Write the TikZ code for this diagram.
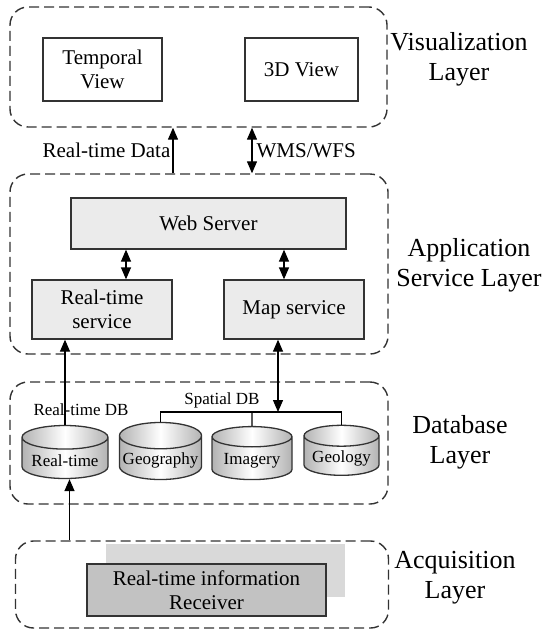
\documentclass[tikz,border=0pt]{standalone}
\usepackage{fontspec}
\setmainfont{Liberation Serif}
\usetikzlibrary{arrows.meta}
\usetikzlibrary{shapes.geometric}

\begin{document}
\begin{tikzpicture}[x=1pt, y=-1pt, >={Triangle[length=12pt,width=10pt]}, line width=1.3pt,
  layer/.style={draw=black!80, dashed, dash pattern=on 10pt off 5pt, rounded corners=18pt, line width=1.4pt},
  viewbox/.style={draw=black!80, align=center, font=\fontsize{21}{24}\selectfont},
  servbox/.style={viewbox, fill=black!8},
  dbcyl/.style={cylinder, shape border rotate=90, aspect=0.32, draw=black!80, shading=axis,
    left color=black!30, right color=black!30, middle color=white, font=\fontsize{17}{20}\selectfont},
  lbl/.style={align=center, font=\fontsize{26}{30}\selectfont},
  small/.style={font=\fontsize{17}{20}\selectfont}]
\useasboundingbox (0,0) rectangle (542,632);
% visualization layer
\node [layer, minimum width=377, minimum height=120] (vis) at (198.5,67) {};
\node [viewbox, minimum width=119, minimum height=63] (temporal) at (102.5,69.5) {Temporal\\View};
\node [viewbox, minimum width=113, minimum height=63] (view3d) at (301.5,69.5) {3D View};
\node [lbl] (vislbl) at (459,59) {Visualization\\Layer};
% application service layer
\node [layer, minimum width=378, minimum height=180] (app) at (199,264) {};
\node [servbox, minimum width=275, minimum height=51] (web) at (208.5,223.5) {Web Server};
\node [servbox, minimum width=140, minimum height=59] (rtserv) at (102,309.5) {Real-time\\service};
\node [servbox, minimum width=140, minimum height=59] (mapserv) at (294,309.5) {Map service};
\node [lbl] (applbl) at (469,265) {Application\\Service Layer};
% database layer
\node [layer, minimum width=378, minimum height=122] (db) at (199,443) {};
\node [dbcyl, minimum width=86, minimum height=53] (rtdb) at (65,460.5) {Real-time};
\node [dbcyl, minimum width=81, minimum height=53] (geo) at (160.5,460.5) {Geography};
\node [dbcyl, minimum width=80, minimum height=53] (img) at (252,460.5) {Imagery};
\node [dbcyl, minimum width=75, minimum height=50] (geol) at (341.5,458) {Geology};
\node [small] (rtdblbl) at (81,410) {Real-time DB};
\node [small] (spdblbl) at (222,400) {Spatial DB};
\node [lbl] (dblbl) at (460,442) {Database\\Layer};
% acquisition layer
\node [layer, minimum width=373, minimum height=87] (acq) at (202,584.5) {};
\fill [black!15] (106,544) rectangle (345,597);
\node [viewbox, fill=black!24, line width=1.5pt, minimum width=239, minimum height=52] (recv) at (206.5,590) {Real-time information\\Receiver};
\node [lbl] (acqlbl) at (455,578) {Acquisition\\Layer};
% connectors
\coordinate (bus) at (252,412);
\draw [->] (173,0 |- app.north) -- (173,0 |- vis.south) node [midway, left, viewbox, draw=none, inner sep=2pt] {Real-time Data};
\draw [<->] (252,0 |- app.north) -- (252,0 |- vis.south) node [midway, right, viewbox, draw=none, inner sep=4pt] {WMS/WFS};
\draw [<->] (126,0 |- web.south) -- (126,0 |- rtserv.north);
\draw [<->] (284,0 |- web.south) -- (284,0 |- mapserv.north);
\draw [-] (geo.north) |- (bus) -| (geol.north);
\draw [-] (img.north) -- (bus);
\draw [<->] (278,0 |- mapserv.south) -- (278,0 |- bus);
\draw [->] (rtdb.north) -- (rtdb.north |- rtserv.south);
\draw [->] (69.5,0 |- acq.north) -- (69.5,0 |- rtdb.south);
\end{tikzpicture}
\end{document}
